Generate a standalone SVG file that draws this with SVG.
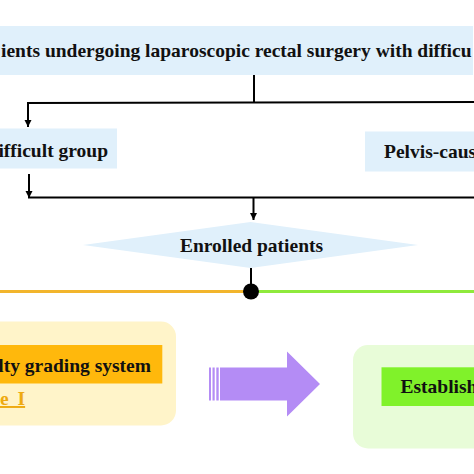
<svg xmlns="http://www.w3.org/2000/svg" width="474" height="474" viewBox="0 0 474 474">
<style>
.t{font-family:"Liberation Serif","Times New Roman",serif;font-weight:bold;font-size:19.5px;fill:#111}
.blue{fill:#e0f0fb}
.ln{stroke:#000;stroke-width:2;fill:none}
</style>
<defs>
<marker id="ah" markerWidth="8" markerHeight="8" refX="7" refY="4" orient="auto" markerUnits="userSpaceOnUse">
<path d="M0,0.5 L7,4 L0,7.5 Z" fill="#000"/>
</marker>
</defs>
<rect width="474" height="474" fill="#fff"/>
<g id="node-patients">
<rect class="blue" x="-10" y="26" width="483" height="49"/>
<text class="t" x="1" y="56.5">ients undergoing laparoscopic rectal surgery with difficu</text>
</g>
<g id="node-difficult-group">
<rect class="blue" x="-10" y="128.5" width="127" height="40"/>
<text class="t" x="108" y="156.5" text-anchor="end">ifficult group</text>
</g>
<g id="node-pelvis">
<rect class="blue" x="365" y="131.5" width="120" height="40"/>
<text class="t" x="384" y="157.5">Pelvis-caus</text>
</g>
<g id="node-enrolled">
<polygon class="blue" points="250.5,222 418,245 250.5,268 83,245"/>
<text class="t" x="251.5" y="252" text-anchor="middle">Enrolled patients</text>
</g>
<g id="connectors">
<line class="ln" x1="254" y1="75" x2="254" y2="103"/>
<line class="ln" x1="27" y1="103" x2="474" y2="102"/>
<line class="ln" x1="28" y1="103" x2="28" y2="127" marker-end="url(#ah)"/>
<line class="ln" x1="29" y1="174" x2="29" y2="198" marker-end="url(#ah)"/>
<line class="ln" x1="28" y1="197.5" x2="474" y2="197.5"/>
<line class="ln" x1="253.5" y1="197.5" x2="253.5" y2="220" marker-end="url(#ah)"/>
<line class="ln" x1="251" y1="268" x2="251" y2="285" stroke-width="2.5"/>
<line x1="0" y1="291.5" x2="251" y2="291.5" stroke="#f2b52c" stroke-width="3"/>
<line x1="251" y1="291.5" x2="474" y2="291.5" stroke="#8fea3c" stroke-width="3"/>
<circle cx="251" cy="291.5" r="8" fill="#000"/>
<g id="purple-arrow" fill="#b48cf5">
<rect x="209" y="367.5" width="2" height="33"/>
<rect x="212.5" y="367.5" width="2.2" height="33"/>
<rect x="216.3" y="367.5" width="2.4" height="33"/>
<polygon points="220,367.5 287,367.5 287,351.5 320,384 287,416.5 287,400.5 220,400.5"/>
</g>
</g>
<g id="node-grading">
<rect x="-20" y="321.5" width="196" height="104" rx="15" fill="#fff4c9"/>
<rect x="-5" y="345" width="167.3" height="38.5" fill="#ffb80c"/>
<text class="t" x="151" y="371.5" text-anchor="end">lty grading system</text>
<text class="t" x="0" y="405" word-spacing="4" style="fill:#eeaa10;text-decoration:underline">e I</text>
</g>
<g id="node-establish">
<rect x="353" y="345" width="140" height="103.5" rx="15" fill="#e8fcd8"/>
<rect x="381.5" y="367.3" width="100" height="38.7" fill="#80f22a"/>
<text class="t" x="400.5" y="393.3">Establish</text>
</g>
</svg>
